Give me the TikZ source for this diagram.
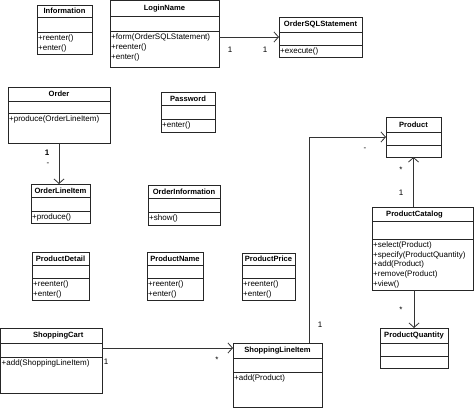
\documentclass[tikz,border=0pt]{standalone}
\usepackage{fontspec}
\setmainfont{Liberation Sans}
\usetikzlibrary{arrows.meta,calc}
\tikzset{
  clsbox/.style={draw=black!85, line width=0.8pt, inner sep=0pt, outer sep=0pt, rectangle},
  sepline/.style={draw=black!85, line width=0.8pt},
  clstitle/.style={font=\fontsize{7.6}{9}\selectfont\bfseries, inner sep=0pt},
  clsmeth/.style={font=\fontsize{8}{9.7}\selectfont, align=left, inner xsep=1pt, inner ysep=2.5pt, anchor=north west},
  assoc/.style={draw=black!80, line width=0.8pt, -{Straight Barb[length=4.5pt,width=10pt]}},
  mult/.style={font=\fontsize{8}{9}\selectfont, inner sep=0pt},
}
\newcommand{\tshift}{0}
% #1 name, #2 x1, #3 y1, #4 x2, #5 y2, #6 sep1, #7 sep2, #8 title, #9 methods
\newcommand{\umlcls}[9]{%
  \node[clsbox, anchor=north west, minimum width={(#4-#2)*1pt}, minimum height={(#5-#3)*1pt}] (#1) at (#2,#3) {};
  \draw[sepline] (#2,#6) -- (#4,#6);
  \draw[sepline] (#2,#7) -- (#4,#7);
  \node[clstitle] (#1-t) at ({(#2+#4)/2+\tshift},{(#3+#6)/2}) {#8};
  \node[clsmeth] (#1-m) at (#2,#7) {#9};
}
\begin{document}
\begin{tikzpicture}[x=1pt,y=-1pt]
\clip (0,0) rectangle (474,409);
\fill[white] (0,0) rectangle (474,409);

\umlcls{Information}{37}{5}{92}{54}{17}{32}{Information}{+reenter()\\+enter()}
\umlcls{LoginName}{110}{0.8}{219}{67}{16.5}{31.5}{LoginName}{+form(OrderSQLStatement)\\+reenter()\\+enter()}
\umlcls{OrderSQLStatement}{279}{17}{362}{57}{32}{45}{OrderSQLStatement}{+execute()}
\umlcls{Order}{8}{87}{110}{143}{101}{113}{Order}{+produce(OrderLineItem)}
\umlcls{Password}{161}{92}{215}{132}{105}{119}{Password}{+enter()}
\umlcls{OrderLineItem}{31}{184}{90}{223}{197}{211}{OrderLineItem}{+produce()}
\umlcls{OrderInformation}{148}{185}{220}{225}{198}{212}{OrderInformation}{+show()}
\umlcls{Product}{386}{117}{441}{157}{132}{145}{Product}{}
\renewcommand{\tshift}{-8}
\umlcls{ProductCatalog}{372}{207}{473}{290}{221.5}{239}{ProductCatalog}{+select(Product)\\+specify(ProductQuantity)\\+add(Product)\\+remove(Product)\\+view()}
\renewcommand{\tshift}{0}
\umlcls{ProductDetail}{32}{252}{89}{300}{265}{278}{ProductDetail}{+reenter()\\+enter()}
\umlcls{ProductName}{147}{252}{203}{300}{265}{278}{ProductName}{+reenter()\\+enter()}
\umlcls{ProductPrice}{242}{253}{295}{300}{265}{278}{ProductPrice}{+reenter()\\+enter()}
\renewcommand{\tshift}{7}
\umlcls{ShoppingCart}{0.5}{328}{102}{393}{343}{357}{ShoppingCart}{+add(ShoppingLineItem)}
\renewcommand{\tshift}{0}
\umlcls{ShoppingLineItem}{233}{343}{322}{407.5}{358}{372}{ShoppingLineItem}{+add(Product)}
\umlcls{ProductQuantity}{380}{328}{448}{368}{343}{356}{ProductQuantity}{}

% connectors
\draw[assoc] (LoginName.east |- OrderSQLStatement.west) -- (OrderSQLStatement.west);
\node[mult] (m1) at (230,50) {1};
\node[mult] (m2) at (265,50) {1};

\draw[assoc] (Order.south) -- (Order.south |- OrderLineItem.north);
\node[mult, font=\fontsize{8}{9}\selectfont\bfseries] (m3) at (47,153) {1};
\node[mult] (m4) at (48,164) {-};

\coordinate (sliup) at (309,343);
\draw[assoc] (sliup) |- (Product.west);
\node[mult] (m5) at (365,149) {-};
\node[mult] (m6) at (320,325) {1};

\draw[assoc] (ProductCatalog.north -| Product.south) -- (Product.south);
\node[mult] (m7) at (401,170) {*};
\node[mult] (m8) at (401,193) {1};

\draw[assoc] (ProductCatalog.south -| ProductQuantity.north) -- (ProductQuantity.north);
\node[mult] (m9) at (401,310) {*};

\coordinate (cartout) at (102,348);
\draw[assoc] (cartout) -- (cartout -| ShoppingLineItem.west);
\node[mult] (m10) at (106,362) {1};
\node[mult] (m11) at (217,360) {*};
\end{tikzpicture}
\end{document}
